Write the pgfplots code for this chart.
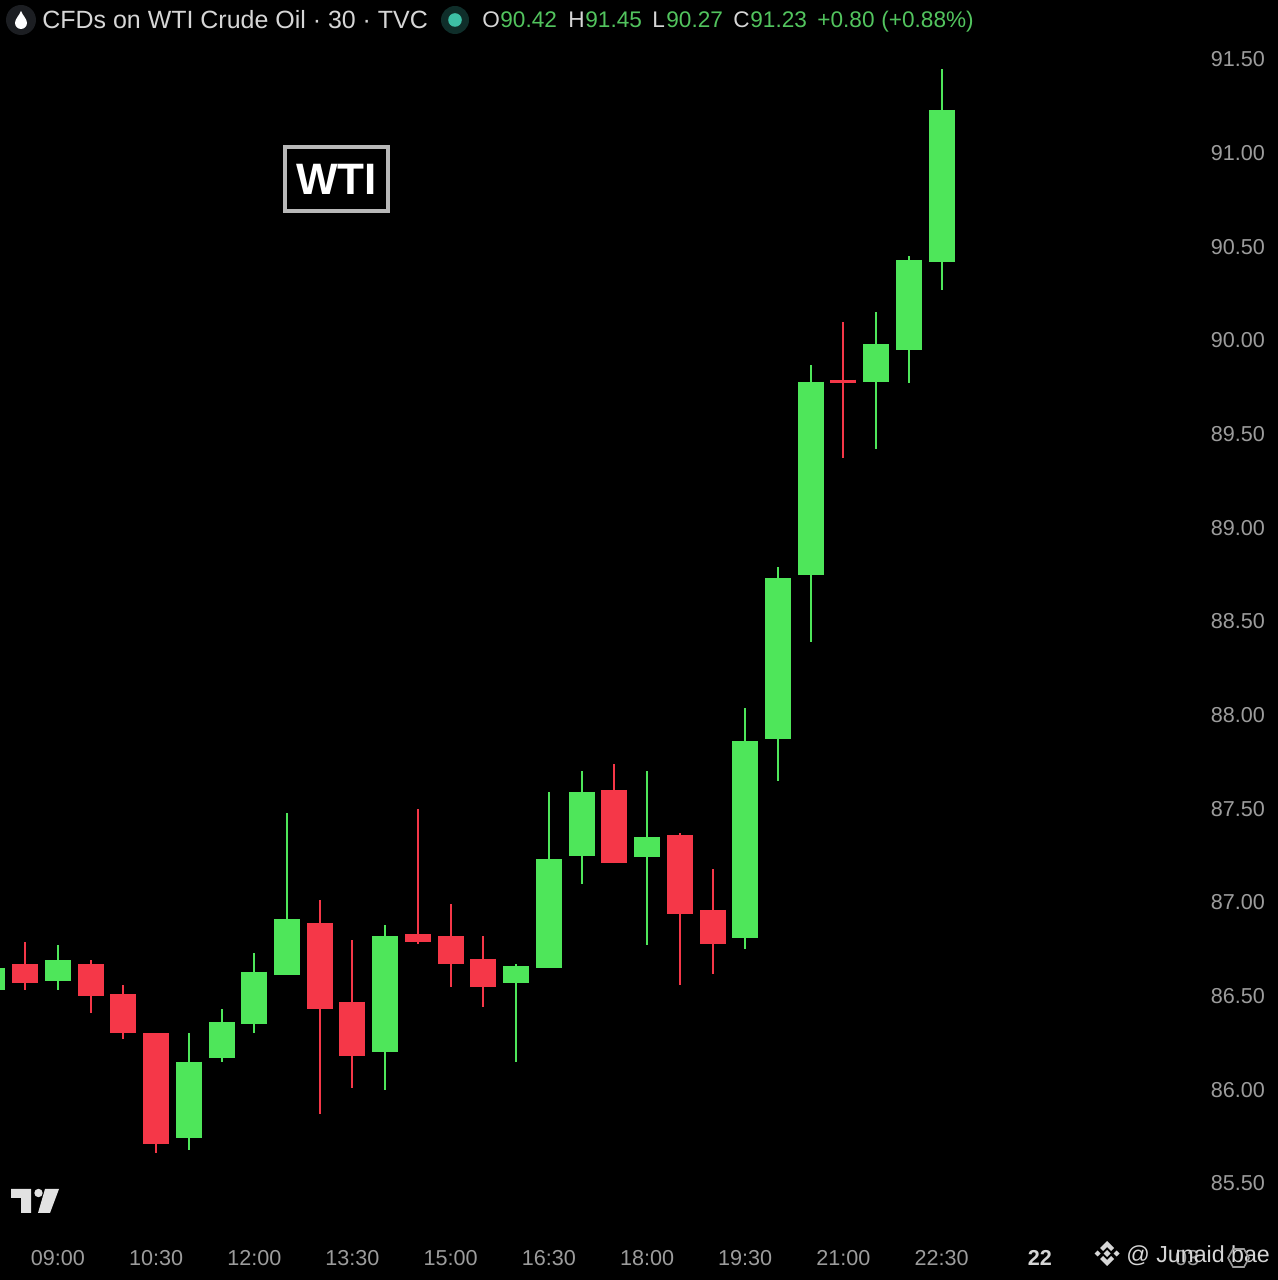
\documentclass[border=0pt]{standalone}
\usepackage{pgfplots}
\usepackage{pgfplotstable}
\usepackage{fontspec}
\setmainfont{Liberation Sans}
\pgfplotsset{compat=1.18}
\definecolor{up}{HTML}{4EE65A}
\definecolor{down}{HTML}{F53748}
\definecolor{axtext}{HTML}{9C9C9C}
\definecolor{hdr}{HTML}{D6D6D6}
\definecolor{hgreen}{HTML}{52C45E}
\definecolor{logo}{HTML}{E2E2E2}
\definecolor{iconbg}{HTML}{1C1E22}
\definecolor{dotbg}{HTML}{0F2E2A}
\definecolor{dotfg}{HTML}{3DBFA5}
\definecolor{boxline}{HTML}{B8B8B8}
\pgfplotstableread{
x open high low close
-2 86.53 86.65 86.53 86.65
0 86.58 86.77 86.53 86.69
4 85.74 86.30 85.68 86.15
5 86.17 86.43 86.15 86.36
6 86.35 86.73 86.30 86.63
7 86.61 87.475 86.61 86.91
10 86.20 86.88 86.00 86.82
14 86.57 86.67 86.15 86.66
15 86.65 87.59 86.65 87.23
16 87.25 87.70 87.10 87.59
18 87.24 87.70 86.77 87.35
21 86.81 88.04 86.75 87.86
22 87.87 88.79 87.65 88.73
23 88.75 89.87 88.39 89.78
25 89.78 90.15 89.42 89.98
26 89.95 90.45 89.77 90.43
27 90.42 91.45 90.27 91.23
}\upcandles
\pgfplotstableread{
x open high low close
-1 86.67 86.79 86.53 86.57
1 86.67 86.69 86.41 86.50
2 86.51 86.56 86.27 86.30
3 86.30 86.30 85.66 85.71
8 86.89 87.01 85.87 86.43
9 86.47 86.80 86.01 86.18
11 86.83 87.50 86.78 86.79
12 86.82 86.99 86.55 86.67
13 86.70 86.82 86.44 86.55
17 87.60 87.74 87.21 87.21
19 87.36 87.37 86.56 86.94
20 86.96 87.18 86.62 86.78
24 89.79 90.10 89.37 89.77
}\downcandles
\newcommand{\px}[2]{({#1*0.5pt},{(1280-#2)*0.5pt})}
\begin{document}
\begin{tikzpicture}
\begin{axis}[
  at={(0,0)}, anchor=south west, scale only axis,
  width=639pt, height=640pt,
  xmin=-1.769, xmax=37.278,
  ymin=84.984, ymax=91.817,
  axis background/.style={fill=black},
  axis line style={draw=none},
  tick style={draw=none},
  major tick length=0pt,
  ytick={85.5,86,86.5,87,87.5,88,88.5,89,89.5,90,90.5,91,91.5},
  yticklabel pos=right,
  /pgf/number format/assume math mode=true,
  yticklabel style={/pgf/number format/fixed, /pgf/number format/fixed zerofill, /pgf/number format/precision=2,
    anchor=east, xshift=-3pt, font=\fontsize{10.8}{13}\selectfont, text=axtext},
  xtick={0,3,6,9,12,15,18,21,24,27,30,34.5},
  xticklabels={09:00,10:30,12:00,13:30,15:00,16:30,18:00,19:30,21:00,22:30,{\textbf{\textcolor{hdr}{22}}},03},
  xticklabel style={anchor=base, yshift=7pt, font=\fontsize{10.8}{13}\selectfont, text=axtext},
  clip=true,
]
\addplot[draw=none, no markers, forget plot, error bars/.cd, y dir=both, y explicit, error mark=none,
  error bar style={solid, draw=up, line width=1pt}]
  table[x=x, y=close, y error plus expr=\thisrow{high}-\thisrow{close}, y error minus expr=\thisrow{close}-\thisrow{low}] {\upcandles};
\addplot[draw=none, no markers, forget plot, error bars/.cd, y dir=both, y explicit, error mark=none,
  error bar style={solid, draw=up, line width=13pt}]
  table[x=x, y=close, y error plus expr=0, y error minus expr=\thisrow{close}-\thisrow{open}] {\upcandles};
\addplot[draw=none, no markers, forget plot, error bars/.cd, y dir=both, y explicit, error mark=none,
  error bar style={solid, draw=down, line width=1pt}]
  table[x=x, y=close, y error plus expr=\thisrow{high}-\thisrow{close}, y error minus expr=\thisrow{close}-\thisrow{low}] {\downcandles};
\addplot[draw=none, no markers, forget plot, error bars/.cd, y dir=both, y explicit, error mark=none,
  error bar style={solid, draw=down, line width=13pt}]
  table[x=x, y=open, y error plus expr=0, y error minus expr=\thisrow{open}-\thisrow{close}] {\downcandles};
\end{axis}
% header
\fill[iconbg] \px{21}{20} circle (7.5pt);
\fill[white] \px{21}{11} .. controls \px{23}{16} and \px{27}{19} .. \px{27}{23} arc[start angle=0,end angle=-180,radius=3pt] .. controls \px{15}{19} and \px{19}{16} .. cycle;
\node[anchor=base west, inner sep=0, text=hdr, font=\fontsize{12.48}{14}\selectfont] at \px{42}{28.5} {CFDs on WTI Crude Oil · 30 · TVC};
\fill[dotbg] \px{455}{20} circle (7pt);
\fill[dotfg] \px{455}{20} circle (3.4pt);
\foreach \xx/\lab/\cc in {482/O/hdr,500/90.42/hgreen,568/H/hdr,585/91.45/hgreen,652/L/hdr,666/90.27/hgreen,733/C/hdr,750/91.23/hgreen,817/{+0.80}/hgreen,881/{(+0.88\%)}/hgreen}
  \node[anchor=base west, inner sep=0, text=\cc, font=\fontsize{11.3}{14}\selectfont] at \px{\xx}{28} {\lab};
% WTI box
\draw[boxline, line width=2pt] \px{285}{147} rectangle \px{388}{211};
\node[text=white, font=\bfseries\fontsize{22}{26}\selectfont, inner sep=0] at \px{336.5}{179} {WTI};
% TradingView logo
\fill[logo] \px{11}{1189} -- \px{31}{1189} -- \px{31}{1213} -- \px{21}{1213} -- \px{21}{1198} -- \px{11}{1198} -- cycle;
\fill[logo] \px{38.5}{1193} circle (2.1pt);
\fill[logo] \px{45}{1189} -- \px{59}{1189} -- \px{50}{1213} -- \px{38}{1213} -- cycle;
% watermark
\begin{scope}[hdr]
\fill \px{1107}{1241} -- \px{1114}{1248} -- \px{1111}{1251} -- \px{1107}{1247} -- \px{1103}{1251} -- \px{1100}{1248} -- cycle;
\fill \px{1107}{1266} -- \px{1114}{1259} -- \px{1111}{1256} -- \px{1107}{1260} -- \px{1103}{1256} -- \px{1100}{1259} -- cycle;
\fill \px{1097.5}{1250.5} -- \px{1100.5}{1253.5} -- \px{1097.5}{1256.5} -- \px{1094.5}{1253.5} -- cycle;
\fill \px{1116.5}{1250.5} -- \px{1119.5}{1253.5} -- \px{1116.5}{1256.5} -- \px{1113.5}{1253.5} -- cycle;
\fill \px{1107}{1250} -- \px{1110.5}{1253.5} -- \px{1107}{1257} -- \px{1103.5}{1253.5} -- cycle;
\end{scope}
\node[anchor=base west, inner sep=0, text=hdr, font=\fontsize{11.6}{15}\selectfont] at \px{1126}{1262} {@ Junaid bae};
\draw[axtext, line width=0.8pt] \px{1228}{1258} -- \px{1233}{1249} -- \px{1244}{1249} -- \px{1249}{1258} -- \px{1244}{1267} -- \px{1233}{1267} -- cycle;
\pgfresetboundingbox
\path (0,0) rectangle (639pt,640pt);
\end{tikzpicture}
\end{document}
